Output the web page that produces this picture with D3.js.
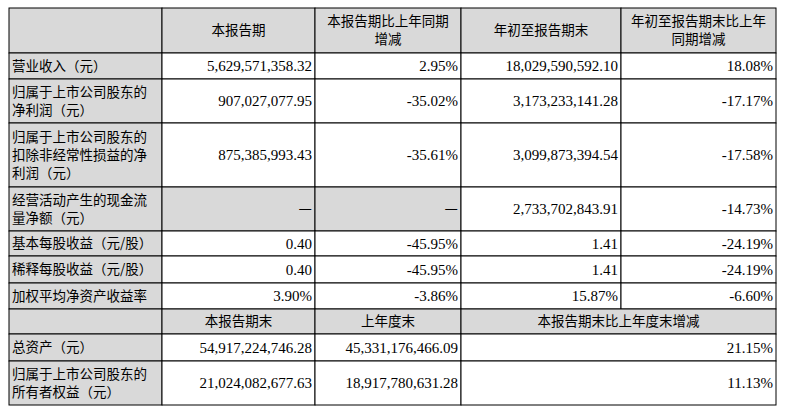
<!DOCTYPE html><html><head><meta charset="utf-8"><script src="https://cdn.jsdelivr.net/npm/d3@7"></script>
<style>body{margin:0;background:#fff}</style></head><body><svg id="c" width="785" height="418"></svg>
<script>
const headers1=["","本报告期","本报告期比上年同期|增减","年初至报告期末","年初至报告期末比上年|同期增减"];
const rowLabels=["营业收入（元）","归属于上市公司股东的|净利润（元）","归属于上市公司股东的|扣除非经常性损益的净|利润（元）","经营活动产生的现金流|量净额（元）","基本每股收益（元/股）","稀释每股收益（元/股）","加权平均净资产收益率"];
const colCur=["5,629,571,358.32","907,027,077.95","875,385,993.43","—","0.40","0.40","3.90%"];
const colCurChg=["2.95%","-35.02%","-35.61%","—","-45.95%","-45.95%","-3.86%"];
const colYtd=["18,029,590,592.10","3,173,233,141.28","3,099,873,394.54","2,733,702,843.91","1.41","1.41","15.87%"];
const colYtdChg=["18.08%","-17.17%","-17.58%","-14.73%","-24.19%","-24.19%","-6.60%"];
const headers2=["","本报告期末","上年度末","本报告期末比上年度末增减"];
const rowLabels2=["总资产（元）","归属于上市公司股东的|所有者权益（元）"];
const colEnd=["54,917,224,746.28","21,024,082,677.63"];
const colPrev=["45,331,176,466.09","18,917,780,631.28"];
const colEndChg=["21.15%","11.13%"];

const xs=[9,162,315,461,621,776];
const ys=[8,53,79,123,187,231,256,283,309,334,361,405];
const svg=d3.select("#c");
const gray="#d9d9d9", cn="'Noto Sans CJK SC',sans-serif", num="'Liberation Serif',serif";
function cell(x0,x1,y0,y1,text,opt){
  svg.append("rect").attr("x",x0).attr("y",y0).attr("width",x1-x0).attr("height",y1-y0)
    .attr("fill",opt.fill||"#fff").attr("stroke","#000").attr("stroke-width",1);
  if(!text)return;
  const lines=text.split("|"),lh=18,n=lines.length;
  const cy=(y0+y1)/2-(n-1)*lh/2;
  const font=text==="—"?cn:(opt.font||cn);
  lines.forEach((t,i)=>{
    const anchor=opt.align||"middle";
    const tx=anchor==="start"?x0+3:anchor==="end"?x1-3:(x0+x1)/2;
    svg.append("text").attr("x",tx).attr("y",cy+i*lh).attr("dy","0.36em")
      .attr("text-anchor",anchor).attr("font-family",font)
      .attr("font-size",opt.size||13.5).attr("fill","#000").text(t);
  });
}
headers1.forEach((h,i)=>cell(xs[i],xs[i+1],ys[0],ys[1],h,{fill:gray,size:13.5}));
rowLabels.forEach((l,r)=>{
  const y0=ys[r+1],y1=ys[r+2];
  cell(xs[0],xs[1],y0,y1,l,{fill:gray,align:"start",size:13.5});
  const g=colCur[r]==="—";
  cell(xs[1],xs[2],y0,y1,colCur[r],{align:"end",font:num,size:15,fill:g?gray:"#fff"});
  cell(xs[2],xs[3],y0,y1,colCurChg[r],{align:"end",font:num,size:15,fill:g?gray:"#fff"});
  cell(xs[3],xs[4],y0,y1,colYtd[r],{align:"end",font:num,size:15});
  cell(xs[4],xs[5],y0,y1,colYtdChg[r],{align:"end",font:num,size:15});
});
const x2=[xs[0],xs[1],xs[2],xs[3],xs[5]];
headers2.forEach((h,i)=>cell(x2[i],x2[i+1],ys[8],ys[9],h,{fill:gray,size:13.5}));
rowLabels2.forEach((l,r)=>{
  const y0=ys[9+r],y1=ys[10+r];
  cell(x2[0],x2[1],y0,y1,l,{fill:gray,align:"start"});
  cell(x2[1],x2[2],y0,y1,colEnd[r],{align:"end",font:num,size:15});
  cell(x2[2],x2[3],y0,y1,colPrev[r],{align:"end",font:num,size:15});
  cell(x2[3],x2[4],y0,y1,colEndChg[r],{align:"end",font:num,size:15});
});
</script></body></html>
